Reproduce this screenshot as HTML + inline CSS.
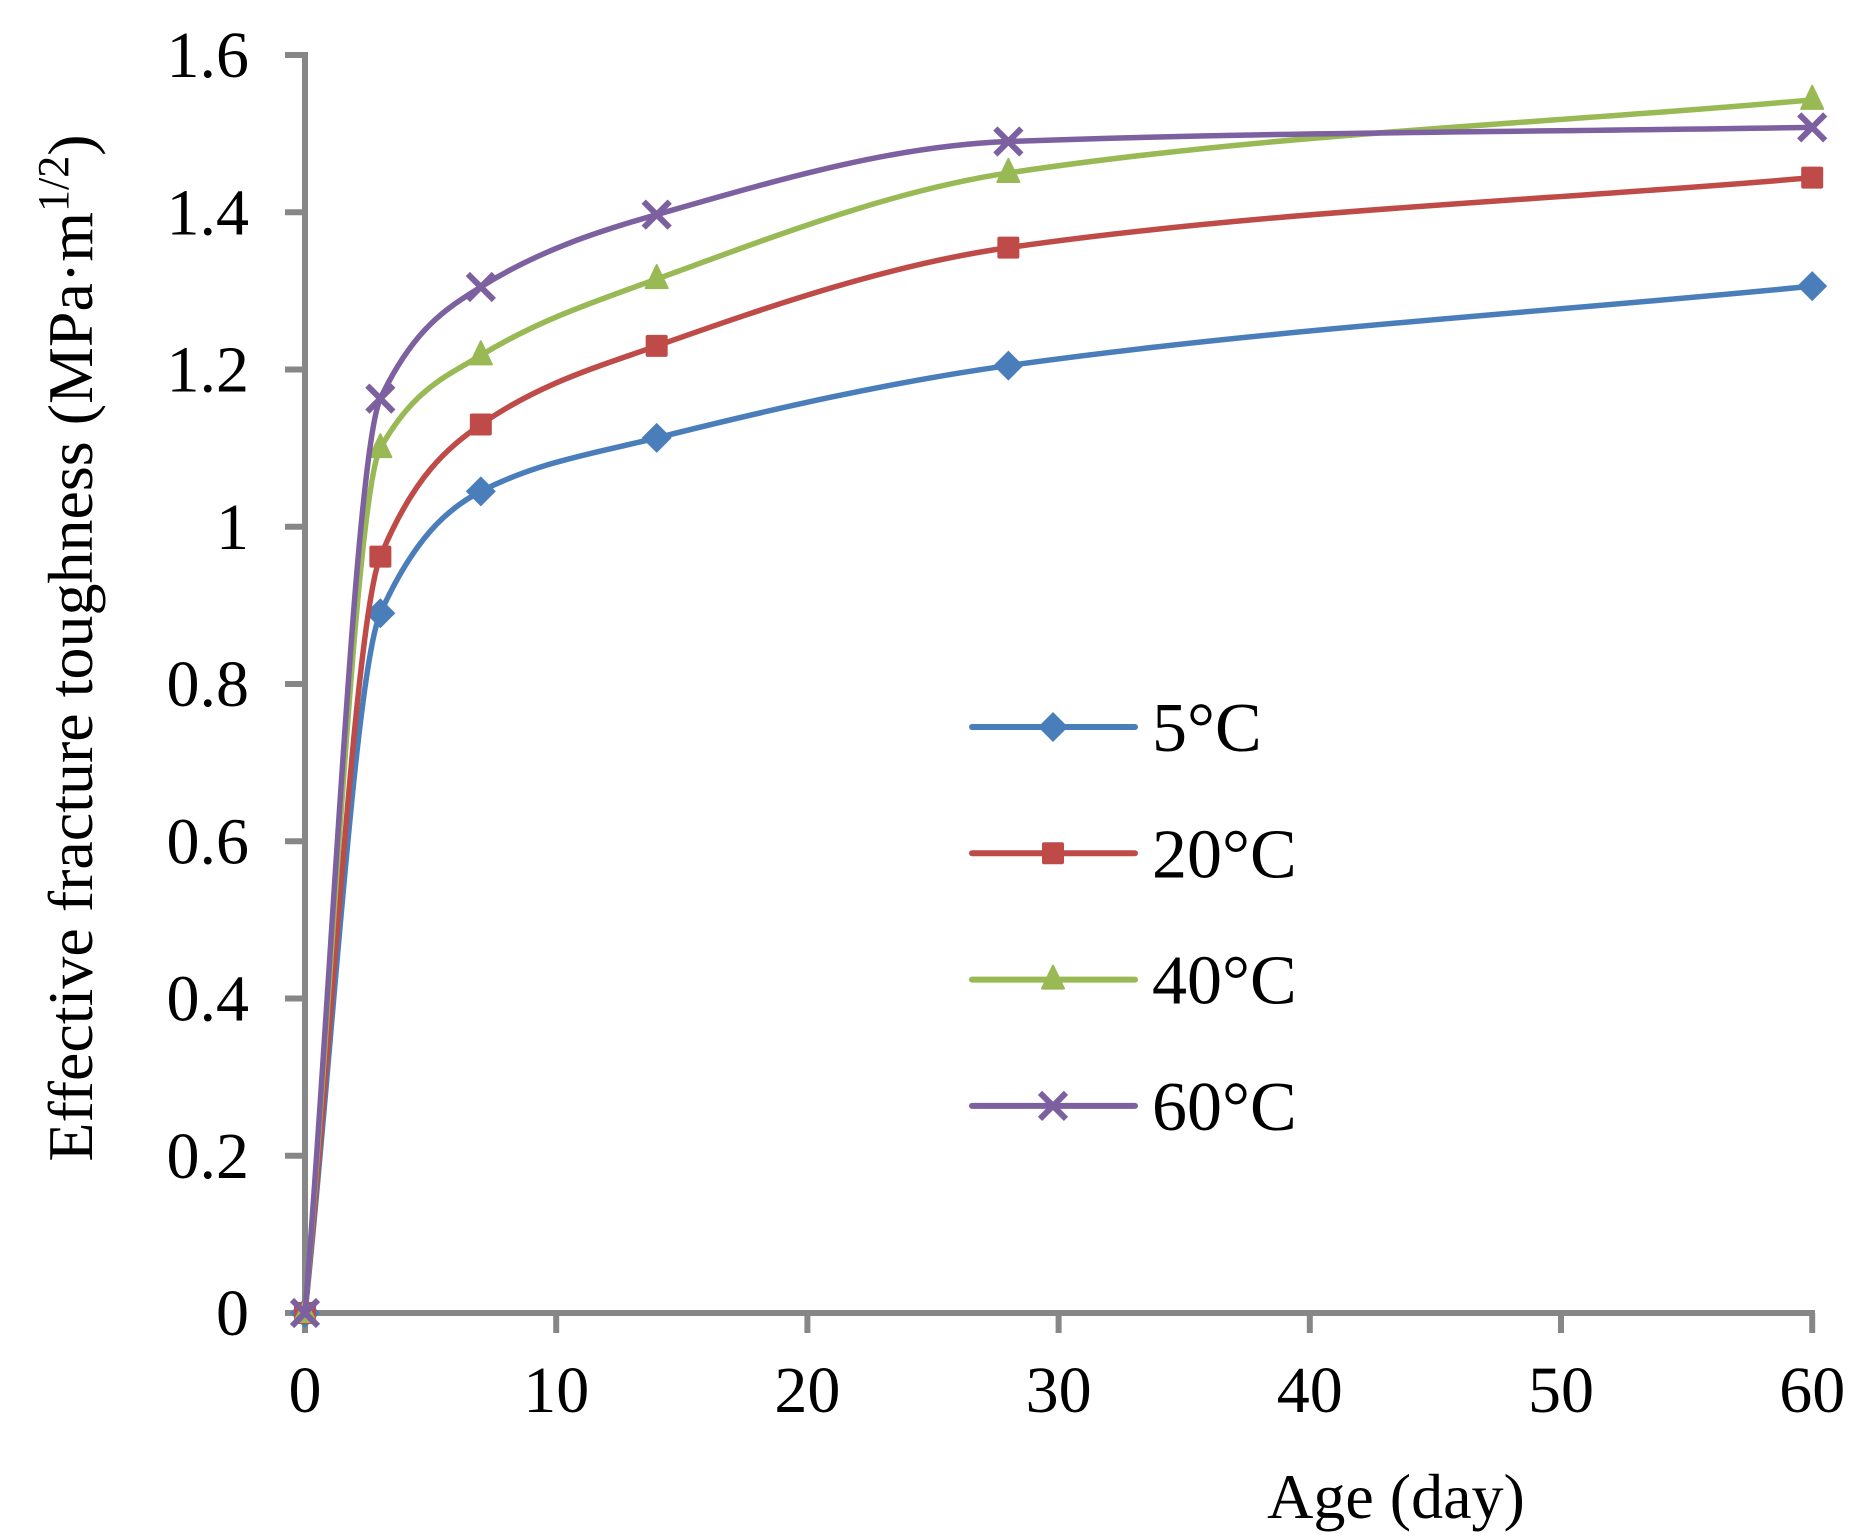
<!DOCTYPE html>
<html><head><meta charset="utf-8"><style>
html,body{margin:0;padding:0;background:#fff;}
svg{display:block;}
text{font-family:"Liberation Serif",serif;fill:#000;}
</style></head><body>
<svg id="s" width="1871" height="1538" xmlns="http://www.w3.org/2000/svg">
<g stroke="#878787" stroke-width="6" fill="none">
<line x1="305" y1="52" x2="305" y2="1316"/>
<line x1="302" y1="1313" x2="1815" y2="1313"/>
</g>
<g id="ticks" stroke="#878787" stroke-width="6"></g>
<g id="tl" font-size="66" text-anchor="end"></g>
<g id="xl" font-size="66" text-anchor="middle"></g>
<g id="series"></g>
<text x="0" y="0" font-size="64" text-anchor="middle" transform="translate(92,648) rotate(-90)">Effective fracture toughness (MPa·m<tspan font-size="44" dy="-24">1/2</tspan><tspan dy="24">)</tspan></text>
<text x="1396" y="1518" font-size="64" text-anchor="middle">Age (day)</text>
<g id="leg" font-size="70"></g>
</svg>
<script>
var NS="http://www.w3.org/2000/svg";
function X(d){return 305+d*25.12;}
function Y(v){return 1313-v*786.25;}
function el(p,tag,a,t){var e=document.createElementNS(NS,tag);for(var k in a)e.setAttribute(k,a[k]);if(t!=null)e.textContent=t;p.appendChild(e);return e;}
var tk=document.getElementById('ticks'),tl=document.getElementById('tl'),xl=document.getElementById('xl');
for(var i=0;i<=8;i++){var v=i*0.2,y=Y(v);el(tk,'line',{x1:285,y1:y,x2:305,y2:y});
 el(tl,'text',{x:249,y:y+22},i==0?'0':(i==5?'1':v.toFixed(1)));}
for(var d=0;d<=60;d+=10){var x=X(d);el(tk,'line',{x1:x,y1:1313,x2:x,y2:1333});el(xl,'text',{x:x,y:1412},String(d));}
var days=[0,3,7,14,28,60];
var S=[
 {c:"#4a7ebb",m:"d",v:[0,0.89,1.045,1.113,1.205,1.306],n:"5°C"},
 {c:"#be4b48",m:"s",v:[0,0.962,1.13,1.23,1.355,1.444],n:"20°C"},
 {c:"#98b954",m:"t",v:[0,1.1,1.218,1.315,1.45,1.543],n:"40°C"},
 {c:"#7d60a0",m:"x",v:[0,1.163,1.305,1.397,1.49,1.508],n:"60°C"}];
function marker(g,m,x,y,c){
 if(m=="d")el(g,'path',{d:"M"+x+" "+(y-15)+"L"+(x+15)+" "+y+"L"+x+" "+(y+15)+"L"+(x-15)+" "+y+"Z",fill:c});
 else if(m=="s")el(g,'rect',{x:x-11,y:y-11,width:22,height:22,fill:c,rx:2});
 else if(m=="t")el(g,'path',{d:"M"+x+" "+(y-14)+"L"+(x+11)+" "+(y+9)+"L"+(x-11)+" "+(y+9)+"Z",fill:c,stroke:c,"stroke-width":2,"stroke-linejoin":"round"});
 else {el(g,'path',{d:"M"+(x-13)+" "+(y-13)+"L"+(x+13)+" "+(y+13)+"M"+(x+13)+" "+(y-13)+"L"+(x-13)+" "+(y+13),stroke:c,"stroke-width":6});}
}
var sg=document.getElementById('series'),lg=document.getElementById('leg');
S.forEach(function(s,si){
 var P=days.map(function(d,i){return [X(d),Y(s.v[i])];});
 var n=P.length,sl=[],m=[];
 for(var i=0;i<n-1;i++)sl.push((P[i+1][1]-P[i][1])/(P[i+1][0]-P[i][0]));
 m[0]=sl[0];m[n-1]=sl[n-2];
 for(var i=1;i<n-1;i++){
  if(sl[i-1]*sl[i]<=0)m[i]=0;
  else{var h0=P[i][0]-P[i-1][0],h1=P[i+1][0]-P[i][0];var w1=2*h1+h0,w2=h1+2*h0;m[i]=(w1+w2)/(w1/sl[i-1]+w2/sl[i]);}
 }
 var d="M"+P[0][0]+" "+P[0][1];
 for(var i=0;i<n-1;i++){
  var h=(P[i+1][0]-P[i][0])/3;
  d+="C"+(P[i][0]+h)+" "+(P[i][1]+m[i]*h)+" "+(P[i+1][0]-h)+" "+(P[i+1][1]-m[i+1]*h)+" "+P[i+1][0]+" "+P[i+1][1];
 }
 el(sg,'path',{d:d,fill:"none",stroke:s.c,"stroke-width":5.5,"stroke-linejoin":"round"});
 P.forEach(function(p){marker(sg,s.m,p[0],p[1],s.c);});
 var ly=727+si*126.3;
 el(lg,'line',{x1:972,y1:ly,x2:1135,y2:ly,stroke:s.c,"stroke-width":6,"stroke-linecap":"round"});
 marker(lg,s.m,1053,ly,s.c);
 el(lg,'text',{x:1152,y:ly+24},s.n);
});
</script>
</body></html>
